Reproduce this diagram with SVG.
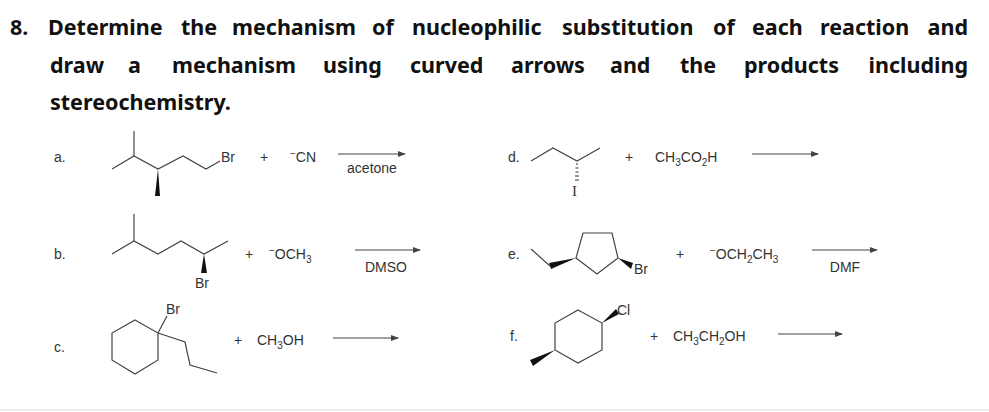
<svg xmlns="http://www.w3.org/2000/svg" width="989" height="412" viewBox="0 0 989 412">
<style>
.t{font-family:"Noto Sans","Liberation Sans",sans-serif;font-weight:bold;font-size:21.5px;fill:#111}
.l{font-family:"Liberation Sans",Arial,sans-serif;font-size:14px;fill:#333}
.b{fill:none;stroke:#444;stroke-width:1.2}
.w{fill:#111}
.a{stroke:#444;stroke-width:1.2;marker-end:url(#ah)}
</style>
<defs><marker id="ah" markerWidth="8" markerHeight="6" refX="7" refY="3" orient="auto" markerUnits="userSpaceOnUse"><path d="M0,0L8,3L0,6z" fill="#444"/></marker></defs>
<rect width="989" height="412" fill="#fff"/>
<g id="title" class="t">
<text x="10" y="35">8.</text><text x="48" y="35">Determine</text><text x="181" y="35">the</text><text x="232" y="35">mechanism</text><text x="372" y="35">of</text><text x="412" y="35">nucleophilic</text><text x="562" y="35">substitution</text><text x="713" y="35">of</text><text x="752" y="35">each</text><text x="820" y="35">reaction</text><text x="968" y="35" text-anchor="end">and</text>
<text x="50" y="73">draw</text><text x="128" y="73">a</text><text x="172" y="73">mechanism</text><text x="323" y="73">using</text><text x="410" y="73">curved</text><text x="511" y="73">arrows</text><text x="610" y="73">and</text><text x="680" y="73">the</text><text x="744" y="73">products</text><text x="968" y="73" text-anchor="end">including</text>
<text x="50" y="110">stereochemistry.</text>
</g>
<g id="a">
<text class="l" x="54" y="162">a.</text>
<polyline class="b" points="112,169 134,156 158,169 183,156 206,169 220,161"/>
<line class="b" x1="134" y1="156" x2="134" y2="131"/>
<polygon class="w" points="158,169 155,196 160,196"/>
<text class="l" x="221" y="162">Br</text>
<text class="l" x="260" y="162">+</text>
<text class="l" x="290" y="162"><tspan font-size="10" dy="-5">−</tspan><tspan dy="5">CN</tspan></text>
</g>
<g id="b">
<text class="l" x="54" y="259">b.</text>
<polyline class="b" points="112,254 134,241 158,254 181,241 204,254 228,241"/>
<line class="b" x1="134" y1="241" x2="134" y2="214"/>
<polygon class="w" points="204,254 201,273 207,273"/>
<text class="l" x="195" y="288">Br</text>
<text class="l" x="245" y="259">+</text>
<text class="l" x="269" y="259"><tspan font-size="10" dy="-5">−</tspan><tspan dy="5">OCH</tspan><tspan font-size="10" dy="4">3</tspan></text>
</g>
<g id="c">
<text class="l" x="54" y="352">c.</text>
<polygon class="b" points="135,320 158,333 158,360 135,374 112,360 112,333"/>
<line class="b" x1="158" y1="333" x2="167" y2="316"/>
<text class="l" x="166" y="314">Br</text>
<polyline class="b" points="158,333 185,342 190,365 217,373"/>
<text class="l" x="234" y="345">+</text>
<text class="l" x="257" y="345">CH<tspan font-size="10" dy="4">3</tspan><tspan dy="-4">OH</tspan></text>
</g>
<g id="d">
<text class="l" x="508" y="162">d.</text>
<polyline class="b" points="531,161 553,148 577,161 600,148"/>
<g stroke="#333" stroke-width="1"><line x1="576" y1="164" x2="578" y2="164"/><line x1="575.5" y1="168" x2="578.5" y2="168"/><line x1="575.5" y1="172" x2="578.5" y2="172"/><line x1="575" y1="176" x2="579" y2="176"/><line x1="575" y1="180" x2="579" y2="180"/></g>
<text x="572" y="196" font-family="Liberation Serif,serif" font-size="15" fill="#333">I</text>
<text class="l" x="625" y="162">+</text>
<text class="l" x="655" y="162">CH<tspan font-size="10" dy="4">3</tspan><tspan dy="-4">CO</tspan><tspan font-size="10" dy="4">2</tspan><tspan dy="-4">H</tspan></text>
</g>
<g id="e">
<text class="l" x="508" y="259">e.</text>
<line class="b" x1="531" y1="249" x2="550" y2="266"/>
<polygon class="w" points="576,258 549,263 551,269"/>
<polygon class="b" points="576,258 583,233 612,233 618,258 597,274"/>
<polygon class="w" points="618,258 633,263 631,269"/>
<text class="l" x="634" y="274">Br</text>
<text class="l" x="676" y="259">+</text>
<text class="l" x="710" y="259"><tspan font-size="10" dy="-5">−</tspan><tspan dy="5">OCH</tspan><tspan font-size="10" dy="4">2</tspan><tspan dy="-4">CH</tspan><tspan font-size="10" dy="4">3</tspan></text>
</g>
<g id="f">
<text class="l" x="510" y="341">f.</text>
<polygon class="b" points="578,310 602,323 602,350 578,363 555,350 555,323"/>
<polygon class="w" points="602,323 616,309 619,314"/>
<text class="l" x="617" y="315">Cl</text>
<polygon class="w" points="555,350 530,360 533,366"/>
<text class="l" x="650" y="341">+</text>
<text class="l" x="673" y="341">CH<tspan font-size="10" dy="4">3</tspan><tspan dy="-4">CH</tspan><tspan font-size="10" dy="4">2</tspan><tspan dy="-4">OH</tspan></text>
</g>
<g id="connectors">
<line class="a" x1="338" y1="154" x2="405" y2="154"/>
<line class="a" x1="355" y1="250" x2="420" y2="250"/>
<line class="a" x1="333" y1="338" x2="398" y2="338"/>
<line class="a" x1="752" y1="154" x2="818" y2="154"/>
<line class="a" x1="812" y1="250" x2="877" y2="250"/>
<line class="a" x1="778" y1="334" x2="842" y2="334"/>
<line x1="0" y1="410" x2="989" y2="410" stroke="#eee" stroke-width="2"/>
</g>
<g id="labels">
<text class="l" x="372" y="173" text-anchor="middle">acetone</text>
<text class="l" x="386" y="272" text-anchor="middle">DMSO</text>
<text class="l" x="845" y="272" text-anchor="middle">DMF</text>
</g>
</svg>
